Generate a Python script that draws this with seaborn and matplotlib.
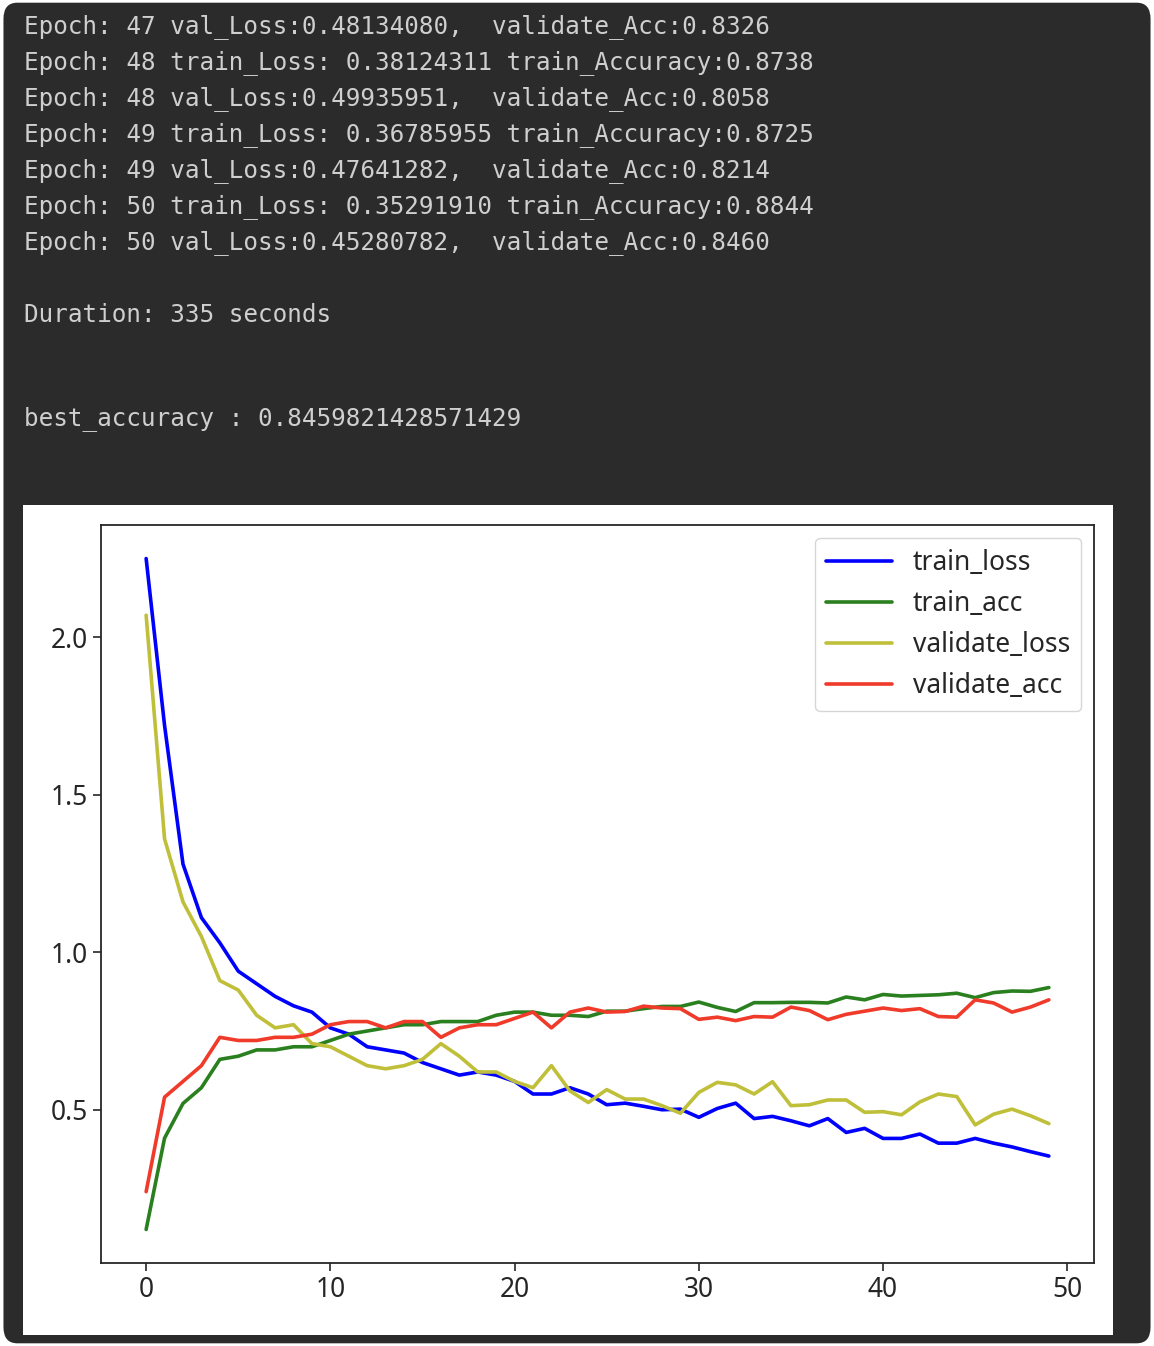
import matplotlib
matplotlib.use("Agg")
import matplotlib.pyplot as plt
from matplotlib.patches import FancyBboxPatch
import seaborn as sns
import pandas as pd

sns.set_style("ticks")
plt.rcParams['font.family'] = ['Noto Sans', 'DejaVu Sans']

log_lines = [
    "Epoch: 47 val_Loss:0.48134080,  validate_Acc:0.8326",
    "Epoch: 48 train_Loss: 0.38124311 train_Accuracy:0.8738",
    "Epoch: 48 val_Loss:0.49935951,  validate_Acc:0.8058",
    "Epoch: 49 train_Loss: 0.36785955 train_Accuracy:0.8725",
    "Epoch: 49 val_Loss:0.47641282,  validate_Acc:0.8214",
    "Epoch: 50 train_Loss: 0.35291910 train_Accuracy:0.8844",
    "Epoch: 50 val_Loss:0.45280782,  validate_Acc:0.8460",
]
duration_line = "Duration: 335 seconds"
best_line = "best_accuracy : 0.8459821428571429"

train_loss = [2.25, 1.72, 1.28, 1.11, 1.03, 0.94, 0.90, 0.86, 0.83, 0.81,
              0.76, 0.74, 0.70, 0.69, 0.68, 0.65, 0.63, 0.61, 0.62, 0.61,
              0.59, 0.55, 0.55, 0.57, 0.55, 0.516, 0.521, 0.511, 0.50, 0.502,
              0.476, 0.504, 0.521, 0.472, 0.479, 0.465, 0.449, 0.472, 0.428, 0.441,
              0.409, 0.409, 0.423, 0.394, 0.394, 0.409, 0.394, 0.382, 0.367, 0.353]
train_acc = [0.12, 0.41, 0.52, 0.57, 0.66, 0.67, 0.69, 0.69, 0.70, 0.70,
             0.72, 0.74, 0.75, 0.76, 0.77, 0.77, 0.78, 0.78, 0.78, 0.80,
             0.81, 0.81, 0.80, 0.80, 0.796, 0.813, 0.813, 0.821, 0.828, 0.828,
             0.842, 0.825, 0.812, 0.840, 0.840, 0.841, 0.841, 0.839, 0.858, 0.849,
             0.866, 0.861, 0.863, 0.865, 0.870, 0.856, 0.872, 0.877, 0.876, 0.888]
validate_loss = [2.07, 1.36, 1.16, 1.05, 0.91, 0.88, 0.80, 0.76, 0.77, 0.71,
                 0.70, 0.67, 0.64, 0.63, 0.64, 0.66, 0.71, 0.67, 0.62, 0.62,
                 0.59, 0.57, 0.64, 0.56, 0.523, 0.564, 0.534, 0.534, 0.513, 0.489,
                 0.555, 0.587, 0.579, 0.550, 0.589, 0.513, 0.516, 0.531, 0.531, 0.492,
                 0.494, 0.484, 0.525, 0.550, 0.542, 0.452, 0.486, 0.502, 0.481, 0.456]
validate_acc = [0.24, 0.54, 0.59, 0.64, 0.73, 0.72, 0.72, 0.73, 0.73, 0.74,
                0.77, 0.78, 0.78, 0.76, 0.78, 0.78, 0.73, 0.76, 0.77, 0.77,
                0.79, 0.81, 0.76, 0.81, 0.823, 0.810, 0.812, 0.829, 0.823, 0.821,
                0.787, 0.794, 0.783, 0.796, 0.794, 0.826, 0.815, 0.786, 0.803, 0.813,
                0.823, 0.815, 0.821, 0.796, 0.794, 0.849, 0.839, 0.810, 0.826, 0.849]

W, H = 1154, 1346
fig = plt.figure(figsize=(W / 100, H / 100), dpi=100)
fig.patch.set_facecolor("white")
bg = FancyBboxPatch((0.003, 0.002), 0.994, 0.996, boxstyle="round,pad=0,rounding_size=0.012",
                    transform=fig.transFigure, facecolor="#2b2b2b", edgecolor="none", zorder=0)
fig.patches.append(bg)

txt_color = "#cfcfcf"
mono = dict(family="DejaVu Sans Mono", fontsize=17.5, color=txt_color, va="center", ha="left")
for k, line in enumerate(log_lines):
    fig.text(24 / W, 1 - (27 + 36 * k) / H, line, **mono)
fig.text(24 / W, 1 - 315 / H, duration_line, **mono)
fig.text(24 / W, 1 - 419 / H, best_line, **mono)

# white panel
panel = plt.Rectangle((23 / W, 1 - 1335 / H), (1113 - 23) / W, (1335 - 505) / H,
                      transform=fig.transFigure, facecolor="white", edgecolor="none", zorder=1)
fig.patches.append(panel)

ax = fig.add_axes([101 / W, 1 - 1263 / H, (1094 - 101) / W, (1263 - 525) / H])
ax.set_zorder(2)
df = pd.DataFrame({"epoch": range(len(train_loss)), "train_loss": train_loss,
                   "train_acc": train_acc, "validate_loss": validate_loss,
                   "validate_acc": validate_acc})
colors = {"train_loss": "#0000ff", "train_acc": "#2a7f1f",
          "validate_loss": "#bfbf3a", "validate_acc": "#f03a2a"}
for col, c in colors.items():
    sns.lineplot(data=df, x="epoch", y=col, color=c, lw=2.6, ax=ax, label=col)
ax.set_xlabel("")
ax.set_ylabel("")
ax.set_yticks([0.5, 1.0, 1.5, 2.0])
ax.set_xticks([0, 10, 20, 30, 40, 50])
ax.tick_params(labelsize=19, length=6, width=1.2)
for s in ax.spines.values():
    s.set_visible(True)
    s.set_linewidth(1.3)
leg = ax.legend(loc="upper right", fontsize=19, handlelength=2.5, frameon=True)
leg.get_frame().set_edgecolor("#cccccc")

fig.savefig("out.png", dpi=100)
